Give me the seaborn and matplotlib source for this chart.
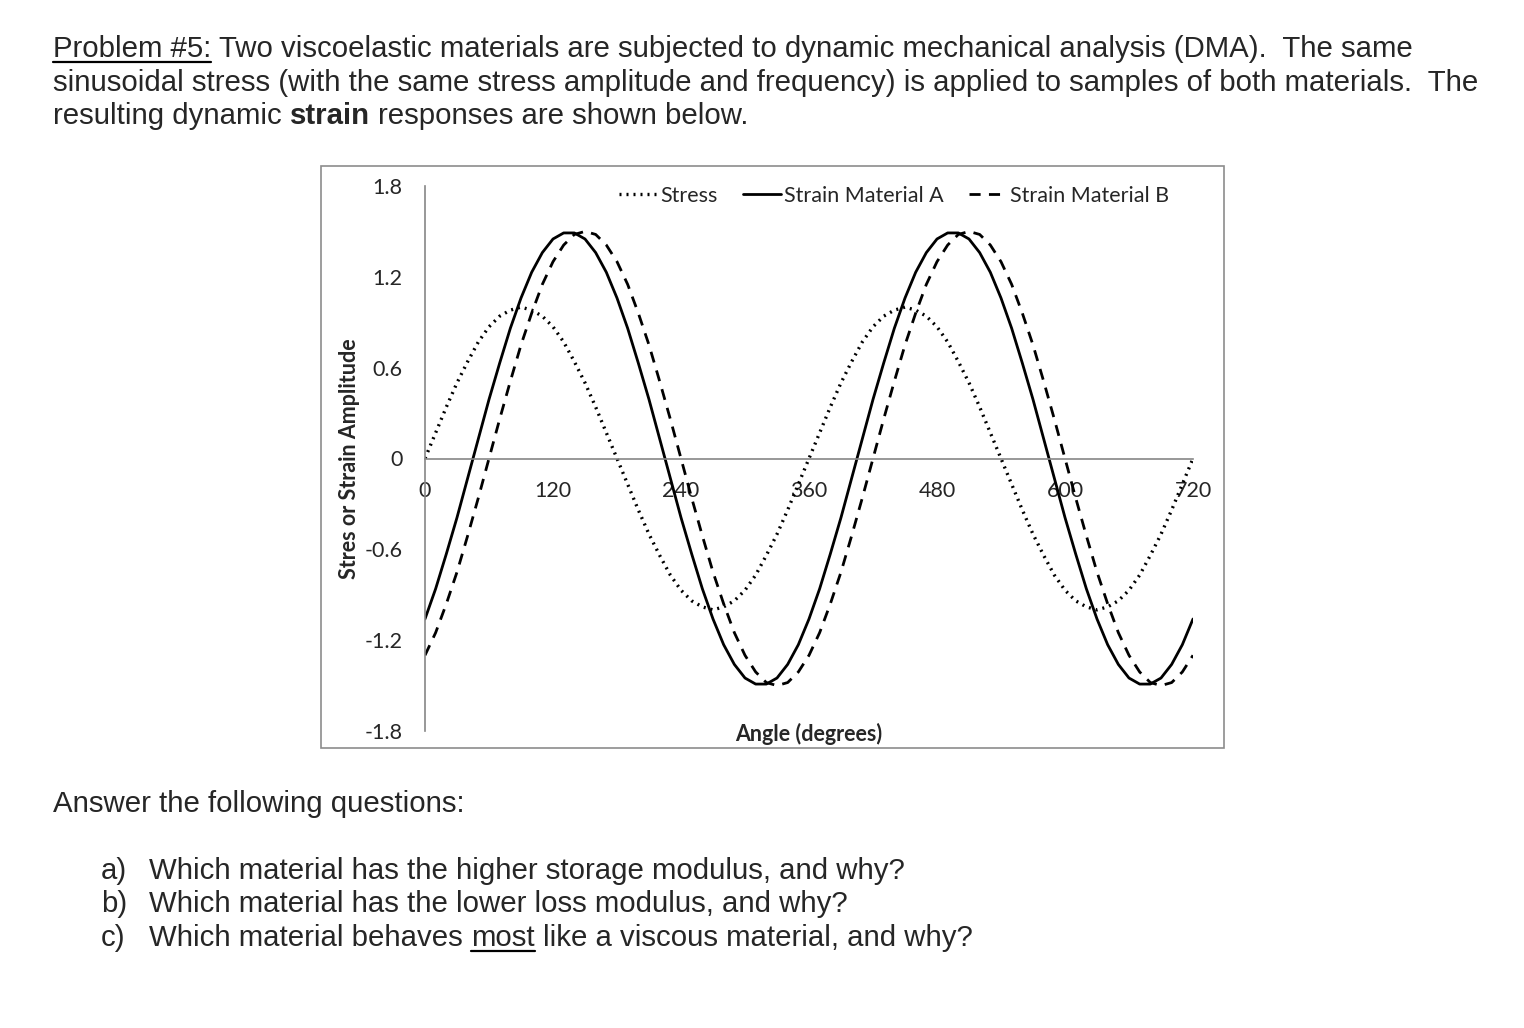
import matplotlib
matplotlib.use("Agg")
import matplotlib.pyplot as plt
from matplotlib.lines import Line2D
from matplotlib.patches import Rectangle
import seaborn as sns
import pandas as pd

# angulos (graus) e respostas
angulo = list(range(0, 721, 10))

tensao = [0, 0.17, 0.34, 0.5, 0.64, 0.77, 0.87, 0.94, 0.98, 1.0, 0.98, 0.94, 0.87, 0.77, 0.64, 0.5, 0.34, 0.17,
          0, -0.17, -0.34, -0.5, -0.64, -0.77, -0.87, -0.94, -0.98, -1.0, -0.98, -0.94, -0.87, -0.77, -0.64, -0.5, -0.34, -0.17,
          0, 0.17, 0.34, 0.5, 0.64, 0.77, 0.87, 0.94, 0.98, 1.0, 0.98, 0.94, 0.87, 0.77, 0.64, 0.5, 0.34, 0.17,
          0, -0.17, -0.34, -0.5, -0.64, -0.77, -0.87, -0.94, -0.98, -1.0, -0.98, -0.94, -0.87, -0.77, -0.64, -0.5, -0.34, -0.17,
          0]

strain_a = [-1.06, -0.86, -0.63, -0.39, -0.13, 0.13, 0.39, 0.63, 0.86, 1.06, 1.23, 1.36, 1.45, 1.49, 1.49, 1.45, 1.36, 1.23,
            1.06, 0.86, 0.63, 0.39, 0.13, -0.13, -0.39, -0.63, -0.86, -1.06, -1.23, -1.36, -1.45, -1.49, -1.49, -1.45, -1.36, -1.23,
            -1.06, -0.86, -0.63, -0.39, -0.13, 0.13, 0.39, 0.63, 0.86, 1.06, 1.23, 1.36, 1.45, 1.49, 1.49, 1.45, 1.36, 1.23,
            1.06, 0.86, 0.63, 0.39, 0.13, -0.13, -0.39, -0.63, -0.86, -1.06, -1.23, -1.36, -1.45, -1.49, -1.49, -1.45, -1.36, -1.23,
            -1.06]

strain_b = [-1.30, -1.15, -0.96, -0.75, -0.51, -0.26, 0, 0.26, 0.51, 0.75, 0.96, 1.15, 1.30, 1.41, 1.48, 1.5, 1.48, 1.41,
            1.30, 1.15, 0.96, 0.75, 0.51, 0.26, 0, -0.26, -0.51, -0.75, -0.96, -1.15, -1.30, -1.41, -1.48, -1.5, -1.48, -1.41,
            -1.30, -1.15, -0.96, -0.75, -0.51, -0.26, 0, 0.26, 0.51, 0.75, 0.96, 1.15, 1.30, 1.41, 1.48, 1.5, 1.48, 1.41,
            1.30, 1.15, 0.96, 0.75, 0.51, 0.26, 0, -0.26, -0.51, -0.75, -0.96, -1.15, -1.30, -1.41, -1.48, -1.5, -1.48, -1.41,
            -1.30]

xticks = [0, 120, 240, 360, 480, 600, 720]
yticks = [-1.8, -1.2, -0.6, 0, 0.6, 1.2, 1.8]
ytick_labels = ["-1.8", "-1.2", "-0.6", "0", "0.6", "1.2", "1.8"]

df = pd.DataFrame({"angulo": angulo, "Stress": tensao,
                   "Strain Material A": strain_a, "Strain Material B": strain_b})

sns.set_style("white")
plt.rcParams["font.family"] = ["Lato", "DejaVu Sans"]

W, H = 1524, 1028
fig = plt.figure(figsize=(W / 100, H / 100), dpi=100)

# caixa do grafico (estilo Excel)
fig.add_artist(Rectangle((321 / W, 1 - 748 / H), (1224 - 321) / W, (748 - 166) / H,
                         transform=fig.transFigure, fill=False, edgecolor="#8c8c8c", lw=1.2))

ax = fig.add_axes([425 / W, 1 - 731 / H, 768 / W, 545 / H])
ax.patch.set_alpha(0)

sns.lineplot(data=df, x="angulo", y="Stress", ax=ax, color="black", lw=2.4,
             linestyle=(0, (0.6, 1.5)), label="Stress")
sns.lineplot(data=df, x="angulo", y="Strain Material A", ax=ax, color="black", lw=2.0,
             label="Strain Material A")
sns.lineplot(data=df, x="angulo", y="Strain Material B", ax=ax, color="black", lw=2.0,
             linestyle=(0, (4, 3)), label="Strain Material B")

ax.set_xlim(0, 720)
ax.set_ylim(-1.8, 1.8)
ax.set_xticks(xticks)
ax.set_xticklabels([str(v) for v in xticks])
ax.set_yticks(yticks)
ax.set_yticklabels(ytick_labels)
ax.set_xlabel("")
ax.set_ylabel("")

for s in ["top", "right"]:
    ax.spines[s].set_visible(False)
ax.spines["bottom"].set_position(("data", 0))
for s in ["left", "bottom"]:
    ax.spines[s].set_color("#868686")
    ax.spines[s].set_linewidth(1.2)

FS = 15.5
ax.tick_params(axis="x", direction="in", length=4, width=1, color="#868686", pad=16, labelsize=FS)
ax.tick_params(axis="y", direction="out", length=4, width=1, color="#868686", pad=12, labelsize=FS)

ax.legend(loc="center", bbox_to_anchor=(0.611, 0.982), ncol=3, frameon=False,
          fontsize=FS, handlelength=1.75, handletextpad=0.15, columnspacing=1.2)

ax.text(0.5, -0.005, "Angle (degrees)", transform=ax.transAxes, ha="center", va="center",
        fontsize=FS, fontweight="bold")
fig.text(350 / W, 1 - 459 / H, "Stres or Strain Amplitude", rotation=90, ha="center", va="center",
         fontsize=FS, fontweight="bold")

# texto do enunciado
renderer = fig.canvas.get_renderer()
TXT = 21.15


def largura(s, peso):
    t = fig.text(0, 0, s, fontsize=TXT, fontweight=peso, family="Liberation Sans")
    w = t.get_window_extent(renderer).width
    t.remove()
    return w


esp = {p: largura("a a", p) - largura("aa", p) for p in ["normal", "bold"]}


def linha(x, y, partes):
    for txt, peso, sub in partes:
        x += (len(txt) - len(txt.lstrip(" "))) * esp[peso]
        t = fig.text(x / W, 1 - y / H, txt.strip(" "), fontsize=TXT, fontweight=peso,
                     family="Liberation Sans", va="baseline", ha="left")
        bb = t.get_window_extent(renderer)
        if sub:
            fig.add_artist(Line2D([bb.x0 / W, bb.x1 / W], [1 - (y + 5) / H] * 2,
                                  transform=fig.transFigure, color="black", lw=1.6))
        x = bb.x1 + (len(txt) - len(txt.rstrip(" "))) * esp[peso]


linha(53, 57, [("Problem #5:", "normal", True),
               (" Two viscoelastic materials are subjected to dynamic mechanical analysis (DMA).  The same", "normal", False)])
linha(53, 91, [("sinusoidal stress (with the same stress amplitude and frequency) is applied to samples of both materials.  The",
                "normal", False)])
linha(53, 124, [("resulting dynamic ", "normal", False), ("strain", "bold", False),
                (" responses are shown below.", "normal", False)])

linha(53, 812, [("Answer the following questions:", "normal", False)])
linha(101, 879, [("a)", "normal", False)])
linha(149, 879, [("Which material has the higher storage modulus, and why?", "normal", False)])
linha(101, 912, [("b)", "normal", False)])
linha(149, 912, [("Which material has the lower loss modulus, and why?", "normal", False)])
linha(101, 946, [("c)", "normal", False)])
linha(149, 946, [("Which material behaves ", "normal", False), ("most", "normal", True),
                 (" like a viscous material, and why?", "normal", False)])

plt.savefig("out.png", dpi=100)
